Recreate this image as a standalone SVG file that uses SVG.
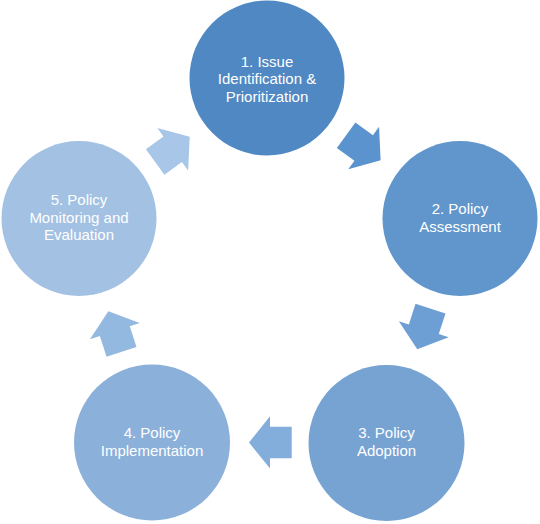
<svg xmlns="http://www.w3.org/2000/svg" width="540" height="524" viewBox="0 0 540 524">
<defs>
<style>
.lbl{font-family:"Liberation Sans",Arial,sans-serif;font-size:15px;fill:#ffffff;text-anchor:middle}
</style>
<path id="arr" d="M249,442.4 L270,416.2 L270,426.7 L291.7,426.7 L291.7,458.2 L270,458.2 L270,468.6 Z"/>
</defs>
<rect width="540" height="524" fill="#ffffff"/>
<g id="connectors">
<use href="#arr" fill="#5A93CD" transform="rotate(216 269 280)"/>
<use href="#arr" fill="#6E9FD4" transform="rotate(288 269 280)"/>
<use href="#arr" fill="#83ADDB"/>
<use href="#arr" fill="#94B9E0" transform="rotate(72 269 280)"/>
<use href="#arr" fill="#A8C6E8" transform="rotate(144 269 280)"/>
</g>
<g id="node1">
<circle cx="267" cy="78" r="77.5" fill="#4F88C2"/>
<text class="lbl" x="267" y="66.5">1. Issue</text>
<text class="lbl" x="267" y="84">Identification &amp;</text>
<text class="lbl" x="267" y="101.5">Prioritization</text>
</g>
<g id="node2">
<circle cx="460" cy="218.5" r="77.5" fill="#6096CB"/>
<text class="lbl" x="460" y="214.3">2. Policy</text>
<text class="lbl" x="460" y="231.7">Assessment</text>
</g>
<g id="node3">
<circle cx="386.5" cy="443" r="78" fill="#77A3D3"/>
<text class="lbl" x="386.5" y="438.3">3. Policy</text>
<text class="lbl" x="386.5" y="455.7">Adoption</text>
</g>
<g id="node4">
<circle cx="152" cy="442.5" r="78" fill="#8BB0DA"/>
<text class="lbl" x="152" y="438.3">4. Policy</text>
<text class="lbl" x="152" y="455.7">Implementation</text>
</g>
<g id="node5">
<circle cx="79" cy="218.5" r="77.5" fill="#A3C1E3"/>
<text class="lbl" x="79" y="205">5. Policy</text>
<text class="lbl" x="79" y="222.5">Monitoring and</text>
<text class="lbl" x="79" y="240">Evaluation</text>
</g>
</svg>
